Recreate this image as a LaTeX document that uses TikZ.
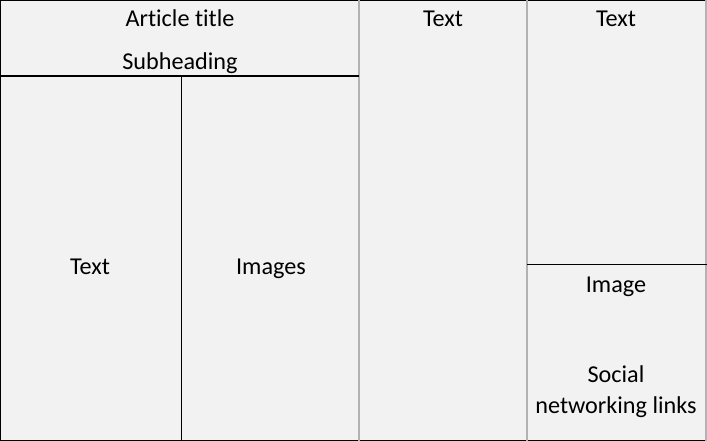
\documentclass[tikz,border=0pt]{standalone}
\usepackage{fontspec}
\setmainfont[Ligatures=NoCommon]{Carlito}
\begin{document}
\begin{tikzpicture}[x=1pt,y=-1pt,
  blk/.style={draw=black,line width=1.3pt},
  gry/.style={draw=black!30,line width=1.5pt},
  lbl/.style={font=\fontsize{24.2}{31}\selectfont,inner sep=0pt,anchor=base,align=center}]
\fill[black!5] (0,0) rectangle (707,441);
\useasboundingbox (0,0) rectangle (707,441);
% outer border
\draw[blk] (0.6,0) -- (0.6,440.4);
\draw[blk] (0,0.6) -- (707,0.6);
\draw[blk] (0,440.4) -- (707,440.4);
\draw[gry] (706,0) -- (706,441);
% inner lines
\draw[gry] (359,0) -- (359,441);
\draw[gry] (527,0) -- (527,441);
\draw[blk] (0,76) -- (359,76);
\draw[blk] (181.5,76) -- (181.5,441);
\draw[blk] (527,264.5) -- (707,264.5);
% labels
\node[lbl] (title) at (180,27) {Article title};
\node[lbl] (sub) at (180,70) {Subheading};
\node[lbl] (t1) at (90,274.5) {Text};
\node[lbl] (img1) at (271,274.5) {Images};
\node[lbl] (t2) at (443,27) {Text};
\node[lbl] (t3) at (616,27) {Text};
\node[lbl] (img2) at (616,292) {Image};
\node[lbl] (soc) at (616,382) {Social};
\node[lbl] (net) at (616,413) {networking links};
\end{tikzpicture}
\end{document}
